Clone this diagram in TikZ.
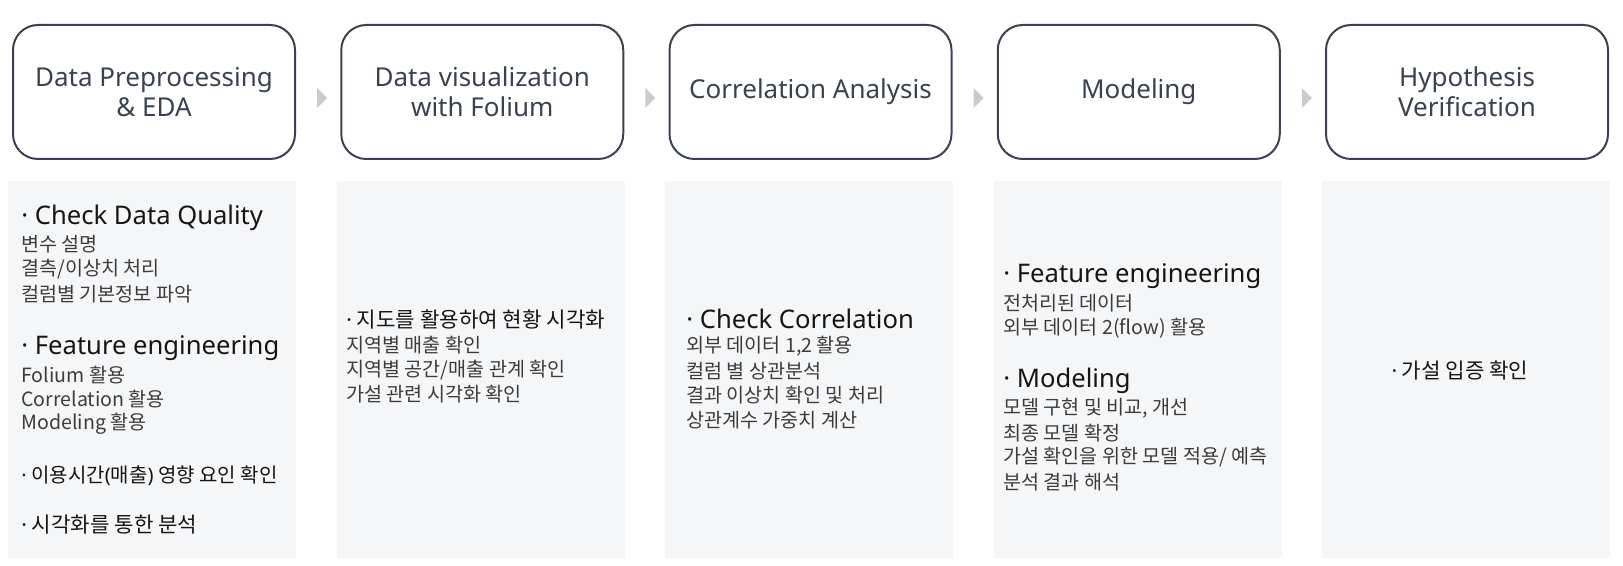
\documentclass[tikz,border=0pt]{standalone}
\usepackage{fontspec}
\setmainfont{Noto Sans}
\newfontfamily\krfont{Noto Sans CJK KR}
\newcommand{\kdot}{{\normalfont·}}

\definecolor{boxline}{HTML}{3A4250}
\definecolor{panelgray}{HTML}{F5F6F8}
\definecolor{tipgray}{HTML}{C8CBD0}
\definecolor{headcol}{HTML}{151515}
\definecolor{itemcol}{HTML}{3C3C3C}

\tikzset{
	stage/.style={draw=boxline, line width=1pt, rounded corners=12.5pt, minimum width=141pt, minimum height=67pt, align=center, text=boxline, font=\fontsize{13}{15}\selectfont},
	panel/.style={fill=panelgray, minimum width=144pt, minimum height=188.5pt, inner sep=0pt},
	headline/.style={anchor=west, inner sep=0pt, text=headcol, font=\fontsize{12.8}{14}\selectfont},
	krhead/.style={anchor=west, inner sep=0pt, text=headcol, font=\krfont\fontsize{10.6}{12}\selectfont},
	item/.style={anchor=west, inner sep=0pt, text=itemcol, font=\krfont\fontsize{9.8}{11}\selectfont}
}

\begin{document}
\begin{tikzpicture}[x=0.5pt,y=-0.5pt]
	\useasboundingbox (0,0) rectangle (1623,566);
	
	% stages
	\node[stage] (s1) at (154,92) {Data Preprocessing\\\& EDA};
	\node[stage] (s2) at (482.25,92) {Data visualization\\with Folium};
	\node[stage] (s3) at (810.5,92) {Correlation Analysis};
	\node[stage] (s4) at (1138.75,92) {Modeling};
	\node[stage] (s5) at (1467,92) {Hypothesis\\Verification};
	
	\foreach \a/\b in {s1/s2,s2/s3,s3/s4,s4/s5} {
		\path (\a.east) -- (\b.west) coordinate[midway] (g\a);
		\fill[tipgray] ([xshift=-0.5pt,yshift=2pt]g\a) -- ([xshift=4.5pt,yshift=-3pt]g\a) -- ([xshift=-0.5pt,yshift=-8pt]g\a) -- cycle;
	}
	
	% panels
	\node[panel] (p1) at (152,369.5) {};
	\node[panel] (p2) at (480.5,369.5) {};
	\node[panel] (p3) at (809,369.5) {};
	\node[panel] (p4) at (1137.5,369.5) {};
	\node[panel] (p5) at (1466,369.5) {};
	
	\node[headline] (p1h1) at (21,218) {· Check Data Quality};
	\node[item] (p1a) at (21,244) {변수 설명};
	\node[item] (p1b) at (21,269) {결측/이상치 처리};
	\node[item] (p1c) at (21,294) {컬럼별 기본정보 파악};
	\node[headline] (p1h2) at (21,348) {· Feature engineering};
	\node[item] (p1d) at (21,375) {Folium 활용};
	\node[item] (p1e) at (21,399) {Correlation 활용};
	\node[item] (p1f) at (21,424) {Modeling 활용};
	\node[krhead, font=\krfont\fontsize{10}{12}\selectfont] (p1h3) at (21,476) {\kdot{} 이용시간{\normalfont(}매출{\normalfont)} 영향 요인 확인};
	\node[krhead] (p1h4) at (21,525) {\kdot{} 시각화를 통한 분석};
	
	\node[krhead] (p2h1) at (346,319) {\kdot{} 지도를 활용하여 현황 시각화};
	\node[item] (p2a) at (346,345) {지역별 매출 확인};
	\node[item] (p2b) at (346,370) {지역별 공간/매출 관계 확인};
	\node[item] (p2c) at (346,394) {가설 관련 시각화 확인};
	
	\node[headline] (p3h1) at (686,319) {· Check Correlation};
	\node[item] (p3a) at (686,346) {외부 데이터 1,2 활용};
	\node[item] (p3b) at (686,371) {컬럼 별 상관분석};
	\node[item] (p3c) at (686,395) {결과 이상치 확인 및 처리};
	\node[item] (p3d) at (686,420) {상관계수 가중치 계산};
	
	\node[headline] (p4h1) at (1003,276) {· Feature engineering};
	\node[item] (p4a) at (1003,303) {전처리된 데이터};
	\node[item] (p4b) at (1003,328) {외부 데이터 2(flow) 활용};
	\node[headline] (p4h2) at (1003,381) {· Modeling};
	\node[item] (p4c) at (1003,408) {모델 구현 및 비교, 개선};
	\node[item] (p4d) at (1003,433) {최종 모델 확정};
	\node[item] (p4e) at (1003,457) {가설 확인을 위한 모델 적용/ 예측};
	\node[item] (p4f) at (1003,482) {분석 결과 해석};
	
	\node[krhead, anchor=center] (p5h1) at (1460,370) {\kdot{} 가설 입증 확인};
\end{tikzpicture}
\end{document}
